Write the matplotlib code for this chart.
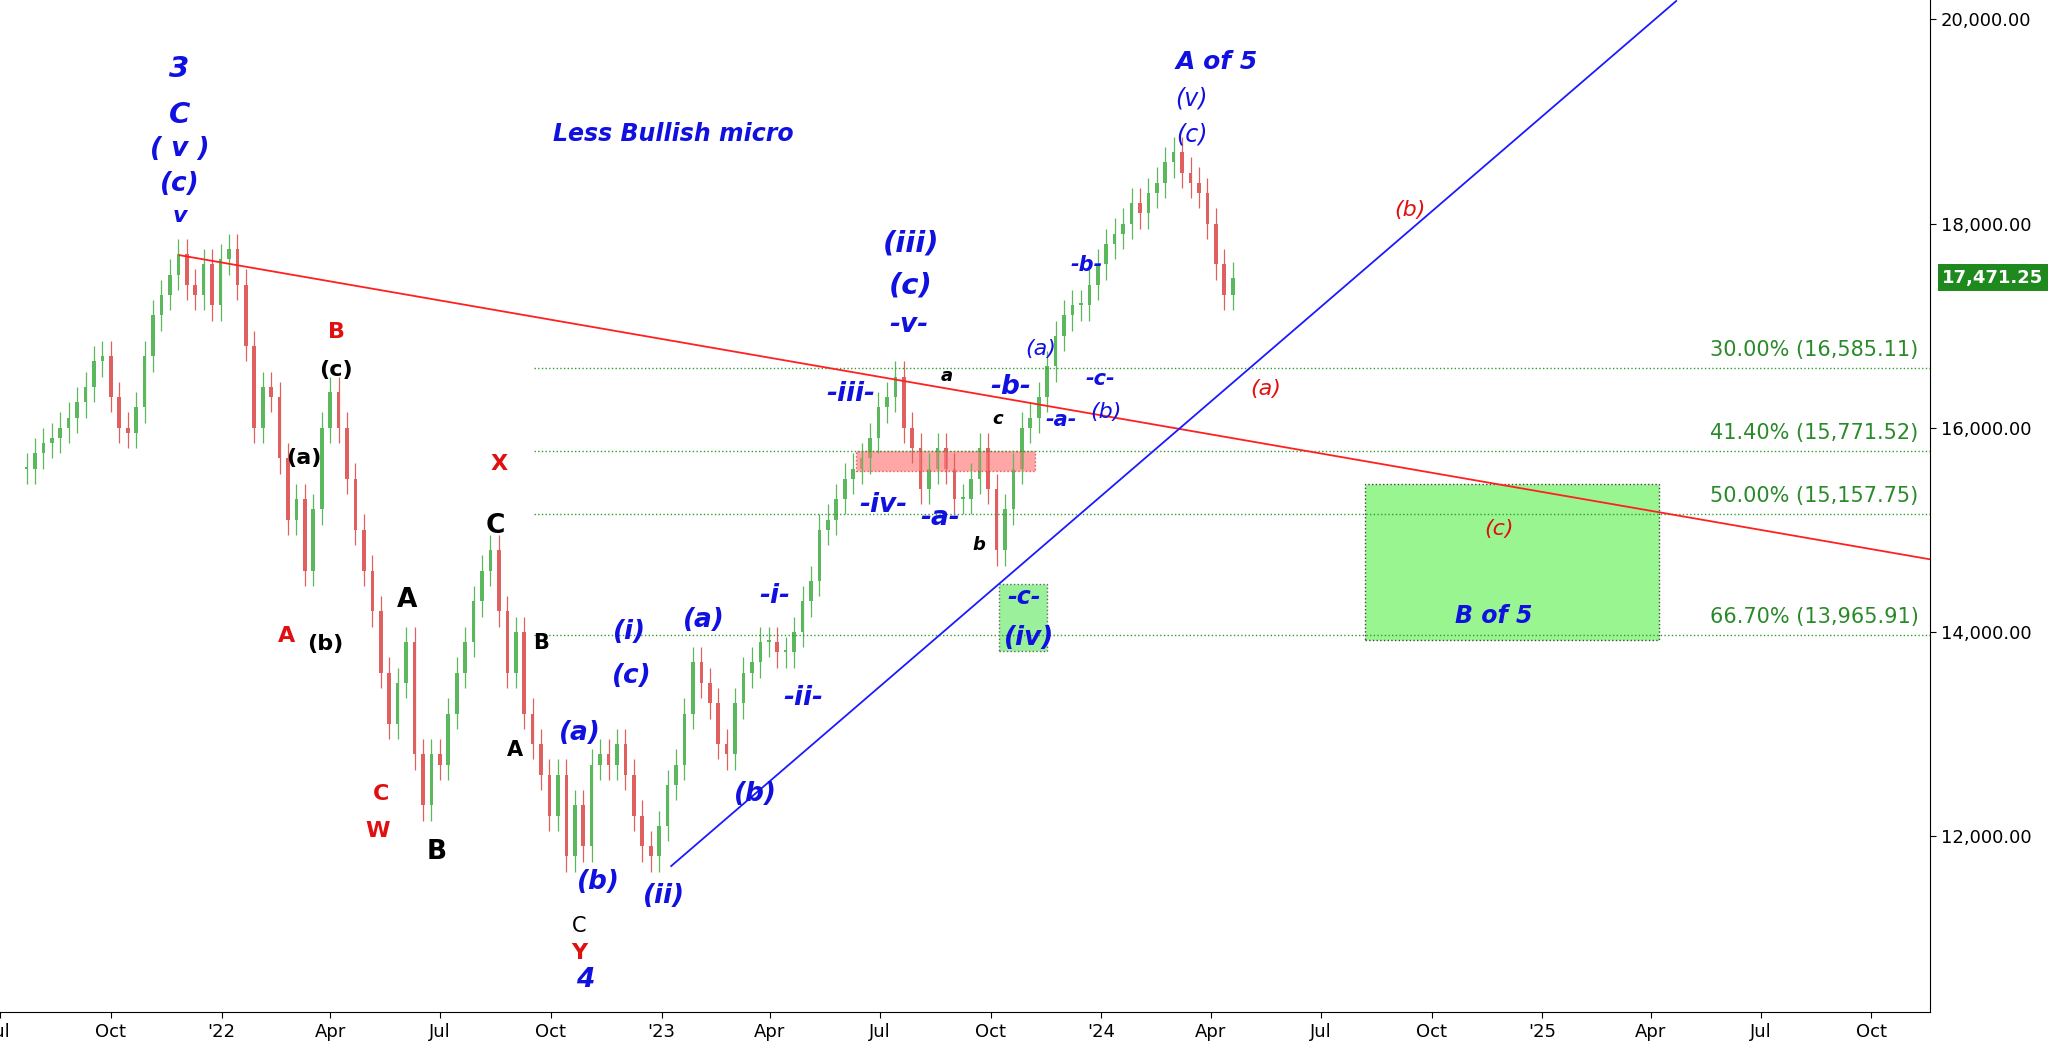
import numpy as np
import pandas as pd
import matplotlib
matplotlib.use("Agg")
import matplotlib.pyplot as plt
import matplotlib.dates as mdates
import matplotlib.transforms as mtransforms

# weekly closes (Jul 2021 - Apr 2024)
closes = [
    15600, 15750, 15850, 15900,
    16000, 16100, 16250, 16400,
    16650, 16700, 16300, 16000,
    15950, 16200, 16700, 17100,
    17300, 17500, 17700, 17400,
    17300, 17600, 17200, 17650, 17750,
    17400, 16800, 16000, 16400,
    16300, 15700, 15100, 15300,
    14600, 15200, 16000, 16350,
    16000, 15500, 15000, 14600,
    14200, 13600, 13100, 13500,
    13900, 12800, 12300, 12800,
    12700, 13200, 13600, 13900,
    14300, 14600, 14800, 14200,
    13600, 14000, 13200, 12900, 12600,
    12200, 12600, 11800, 12300,
    11900, 12700, 12800, 12700,
    12900, 12600, 12200, 11900, 11800,
    12100, 12500, 12700, 13200,
    13700, 13500, 13300, 12900,
    12800, 13300, 13600, 13700,
    13900, 13900, 13800, 13800,
    14000, 14300, 14500, 15000,
    15100, 15300, 15500, 15600, 15700,
    15900, 16200, 16300, 16500,
    16000, 15800, 15400, 15600,
    15800, 15600, 15300, 15300,
    15500, 15800, 15400, 14800,
    15200, 15600, 16000, 16100,
    16300, 16600, 16900, 17100, 17200,
    17200, 17400, 17600, 17800, 17900,
    18000, 18200, 18100, 18300,
    18400, 18600, 18700, 18500, 18400,
    18300, 18000, 17600, 17300, 17471,
]
start_date = "2021-07-23"
last_price = 17471.25

fib_levels = [16585.11, 15771.52, 15157.75, 13965.91]
fib_labels = ["30.00% (16,585.11)", "41.40% (15,771.52)",
              "50.00% (15,157.75)", "66.70% (13,965.91)"]

base = pd.Timestamp("2022-01-01")
def d(days):
    return mdates.date2num(base + pd.Timedelta(days=days))

# (text, days from 2022-01-01, price, color, size, style)
B, K, R = "#1010e0", "black", "#e01010"
labels = [
    ("3", -35, 19515, B, 21, "bi"), ("C", -35, 19067, B, 21, "bi"),
    ("( v )", -35, 18735, B, 19, "bi"), ("(c)", -35, 18390, B, 19, "bi"),
    ("v", -35, 18070, B, 16, "bi"),
    ("Less Bullish micro", 375, 18876, B, 17, "bi"),
    ("A of 5", 826, 19579, B, 18, "bi"), ("(v)", 805, 19221, B, 17, "i"),
    ("(c)", 805, 18876, B, 17, "i"),
    ("(iii)", 572, 17802, B, 21, "bi"), ("(c)", 572, 17393, B, 21, "bi"),
    ("-v-", 570, 17010, B, 19, "bi"), ("-iii-", 522, 16332, B, 19, "bi"),
    ("-iv-", 549, 15246, B, 19, "bi"), ("-a-", 596, 15118, B, 19, "bi"),
    ("a", 602, 16511, K, 13, "bi"), ("c", 644, 16090, K, 13, "bi"),
    ("b", 628, 14850, K, 13, "bi"),
    ("-b-", 655, 16396, B, 19, "bi"), ("(a)", 680, 16767, B, 16, "i"),
    ("-a-", 697, 16077, B, 15, "bi"), ("-c-", 729, 16473, B, 15, "bi"),
    ("(b)", 734, 16154, B, 16, "i"), ("-b-", 718, 17598, B, 15, "bi"),
    ("-c-", 666, 14339, B, 17, "bi"), ("(iv)", 670, 13943, B, 19, "bi"),
    ("-i-", 459, 14352, B, 19, "bi"), ("(a)", 400, 14121, B, 19, "bi"),
    ("-ii-", 483, 13355, B, 19, "bi"), ("(i)", 338, 13994, B, 19, "bi"),
    ("(c)", 340, 13572, B, 19, "bi"), ("(b)", 443, 12409, B, 19, "bi"),
    ("(a)", 297, 13010, B, 19, "bi"), ("(b)", 313, 11553, B, 19, "bi"),
    ("(ii)", 367, 11412, B, 19, "bi"),
    ("C", 297, 11118, K, 15, "n"), ("Y", 297, 10850, R, 16, "b"),
    ("4", 302, 10594, B, 19, "bi"),
    ("B", 265, 13891, K, 15, "b"), ("A", 243, 12843, K, 15, "b"),
    ("C", 227, 15042, K, 19, "b"), ("A", 154, 14313, K, 19, "b"),
    ("B", 178, 11847, K, 19, "b"), ("(b)", 86, 13879, K, 16, "b"),
    ("(a)", 68, 15706, K, 16, "b"), ("(c)", 95, 16562, K, 16, "b"),
    ("B", 95, 16933, R, 16, "b"), ("A", 54, 13955, R, 16, "b"),
    ("X", 230, 15642, R, 16, "b"), ("C", 132, 12409, R, 16, "b"),
    ("W", 129, 12051, R, 16, "b"),
    ("(b)", 986, 18134, R, 16, "i"), ("(a)", 866, 16383, R, 16, "i"),
    ("(c)", 1060, 15003, R, 16, "i"), ("B of 5", 1056, 14160, B, 17, "bi"),
]

fig = plt.figure(figsize=(20.48, 10.51), dpi=100)
ax = fig.add_axes([0.0, 0.037, 0.9426, 0.963])

dates = mdates.date2num(pd.date_range(start_date, periods=len(closes), freq="7D"))
opens = [closes[0]] + closes[:-1]
for x, o, c in zip(dates, opens, closes):
    col = "#5cb85c" if c >= o else "#e06060"
    hi, lo = max(o, c) + 150, min(o, c) - 150
    ax.vlines(x, lo, hi, color=col, lw=0.9)
    ax.bar(x, max(abs(c - o), 20), bottom=min(o, c), width=3.0, color=col, lw=0)

for lvl, lab in zip(fib_levels, fib_labels):
    ax.plot([d(259), d(1418)], [lvl, lvl], color="#2e9e2e", ls=":", lw=1.0)
    ax.text(d(1408), lvl + 80, lab, color="#2a8a2a", fontsize=15, ha="right", va="bottom")

ax.plot([d(-35), d(1418)], [17690, 14710], color="#ff2020", lw=1.3)
ax.plot([d(373), d(1207)], [11706, 20180], color="#1a1aff", lw=1.3)

ax.add_patch(plt.Rectangle((d(526), 15580), d(675) - d(526), 190,
                           facecolor="#ff8080", alpha=0.7, edgecolor="#cc3030", ls=":"))
ax.add_patch(plt.Rectangle((d(645), 13815), d(685) - d(645), 655,
                           facecolor="#90f090", alpha=0.9, edgecolor="#555", ls=":"))
ax.add_patch(plt.Rectangle((d(949), 13917), d(1193) - d(949), 1533,
                           facecolor="#99f58f", edgecolor="#444", ls=":", lw=1))

for txt, dd, p, col, sz, st in labels:
    ax.text(d(dd), p, txt, color=col, fontsize=sz, ha="center", va="center",
            fontweight="bold" if "b" in st else "normal",
            fontstyle="italic" if "i" in st else "normal")

ax.set_xlim(d(-178), d(1418))
ax.set_ylim(10275, 20190)
ax.yaxis.tick_right()
ax.set_yticks([12000, 14000, 16000, 18000, 20000])
ax.set_yticklabels([f"{v:,.2f}" for v in [12000, 14000, 16000, 18000, 20000]], fontsize=13)
ticks = pd.date_range("2021-07-01", "2025-10-01", freq="QS")
ax.set_xticks(mdates.date2num(ticks))
ax.set_xticklabels(["'" + t.strftime("%y") if t.month == 1 else t.strftime("%b") for t in ticks],
                   fontsize=13)
ax.tick_params(axis="x", length=4)
ax.tick_params(axis="y", length=4)
for s in ["top", "left"]:
    ax.spines[s].set_visible(False)

tr = mtransforms.blended_transform_factory(ax.transAxes, ax.transData)
ax.text(1.006, last_price, f"{last_price:,.2f}", transform=tr, fontsize=13, color="white",
        va="center", ha="left", fontweight="bold",
        bbox=dict(boxstyle="square,pad=0.25", fc="#1e8a1e", ec="none"))

fig.savefig("out.png", dpi=100)
